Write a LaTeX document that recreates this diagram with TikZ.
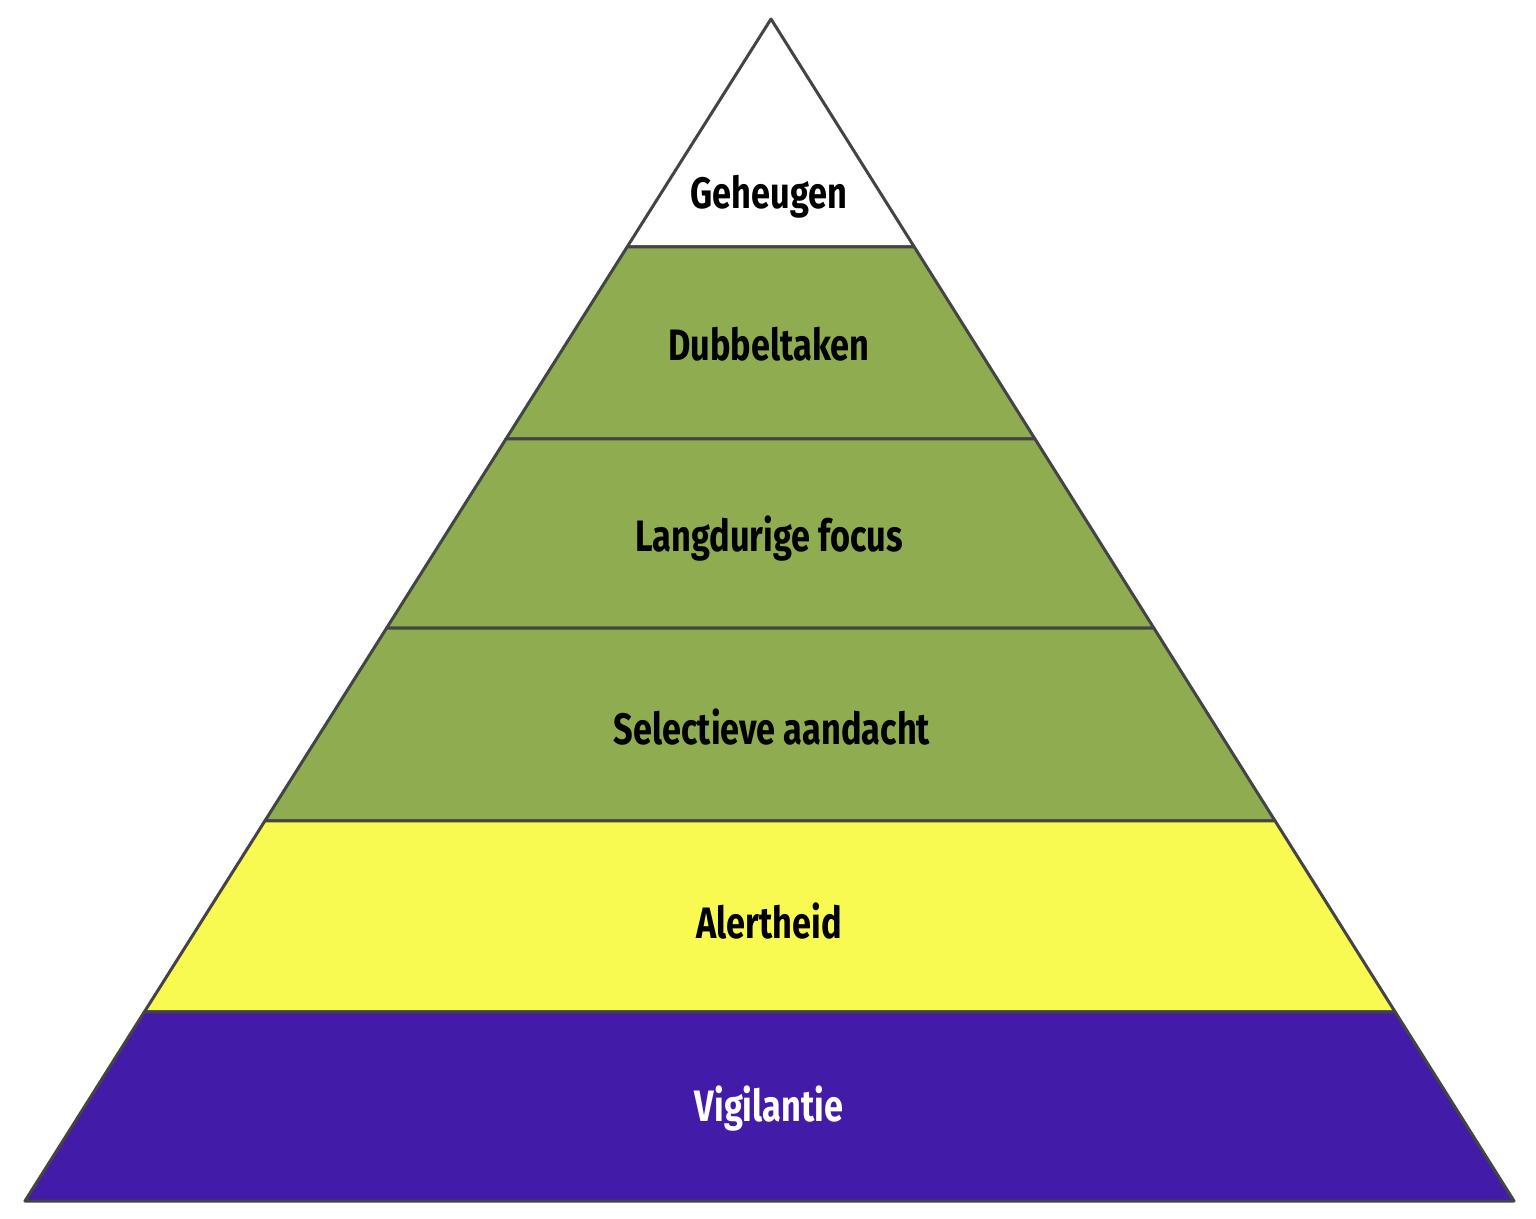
\documentclass[tikz,border=0pt]{standalone}
\usepackage{fontspec}
\setmainfont{Fira Sans}[FakeStretch=0.78]
\usepackage{tikz}
\usetikzlibrary{calc}
\definecolor{edgegray}{RGB}{68,68,68}
\definecolor{softgreen}{RGB}{143,172,80}
\definecolor{softyellow}{RGB}{249,250,81}
\definecolor{deeppurple}{RGB}{67,27,169}

\begin{document}
\begin{tikzpicture}[x=0.5pt, y=-0.5pt,
    layer/.style={draw=edgegray, line width=1.5pt, line join=round},
    lbl/.style={font=\fontsize{22}{26}\selectfont\bfseries, text=black, inner sep=0pt}]
    \useasboundingbox (0,0) rectangle (1536,1219);

    % --- outline of the pyramid ---
    \coordinate (apex) at (771,19);
    \coordinate (bl) at (25,1201);
    \coordinate (br) at (1514,1201);
    \foreach \nm/\yy in {a/247,b/439,c/628,d/821,e/1012}{
        \coordinate (\nm L) at ($(apex)!{(\yy-19)/1182}!(bl)$);
        \coordinate (\nm R) at ($(apex)!{(\yy-19)/1182}!(br)$);
    }

    % --- layers, top to bottom ---
    \filldraw[layer, fill=white] (apex) -- (aR) -- (aL) -- cycle;
    \filldraw[layer, fill=softgreen] (aL) -- (aR) -- (bR) -- (bL) -- cycle;
    \filldraw[layer, fill=softgreen] (bL) -- (bR) -- (cR) -- (cL) -- cycle;
    \filldraw[layer, fill=softgreen] (cL) -- (cR) -- (dR) -- (dL) -- cycle;
    \filldraw[layer, fill=softyellow] (dL) -- (dR) -- (eR) -- (eL) -- cycle;
    \filldraw[layer, fill=deeppurple] (eL) -- (eR) -- (br) -- (bl) -- cycle;

    % --- labels ---
    \node[lbl] (geheugen) at (769,197) {Geheugen};
    \node[lbl] (dubbel) at (769,344) {Dubbeltaken};
    \node[lbl] (focus) at (769,539) {Langdurige focus};
    \node[lbl] (selectief) at (772,727) {Selectieve aandacht};
    \node[lbl] (alert) at (769,921) {Alertheid};
    \node[lbl, text=white] (vigil) at (769,1109) {Vigilantie};
\end{tikzpicture}
\end{document}
